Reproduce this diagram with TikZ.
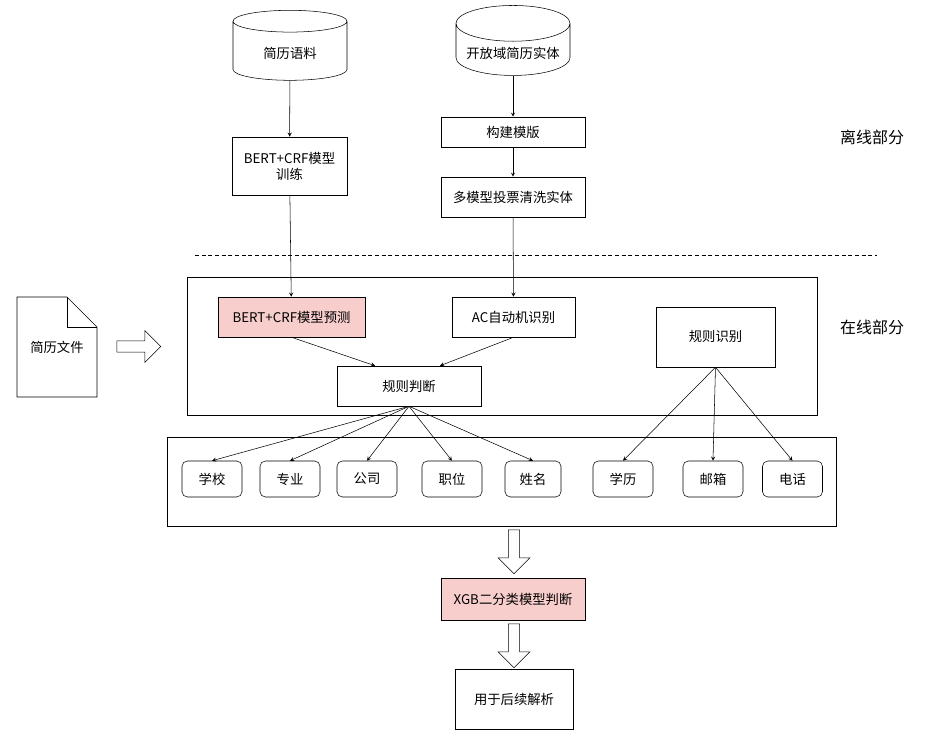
\documentclass[tikz,border=0pt]{standalone}
\usepackage{fontspec}
\setmainfont{Noto Sans CJK SC}
\usetikzlibrary{shapes.geometric,shapes.arrows,calc}
\definecolor{pinkfill}{HTML}{F8CECC}

\begin{document}
\begin{tikzpicture}
    % 样式
    [x=0.75pt,y=-0.75pt,font=\fontsize{10}{12}\selectfont,
    BoxNode/.style={rectangle,draw,fill=white,align=center},
    DbNode/.style={cylinder,shape border rotate=90,draw,aspect=0.35,minimum width=85.5pt,minimum height=52.5pt},
    ItemNode/.style={rectangle,rounded corners=4pt,draw,minimum width=45pt,minimum height=27pt},
    HollowArrow/.style={single arrow,draw,fill=white,single arrow head extend=4pt,minimum height=33pt,minimum width=24pt,inner sep=2pt}]

    \useasboundingbox (0,0) rectangle (943,746);

    % 数据库
    \node[DbNode] (corpus) at (290,53) {简历语料};
    \node[DbNode] (entity) at (513,53) {开放域简历实体};

    % 离线部分
    \node[BoxNode,minimum width=86pt,minimum height=43.5pt] (train) at (289.5,166) {BERT+CRF模型\\训练};
    \node[BoxNode,minimum width=108pt,minimum height=22.5pt] (tmpl) at (513,132) {构建模版};
    \node[BoxNode,minimum width=108pt,minimum height=30pt] (vote) at (513,197) {多模型投票清洗实体};
    \draw[densely dashed] (195,255) -- (877,255);
    \node (offline) at (872,137) {\fontsize{12}{14}\selectfont 离线部分};
    \node (online) at (872,327) {\fontsize{12}{14}\selectfont 在线部分};

    % 在线部分
    \node[BoxNode,minimum width=472.5pt,minimum height=103.5pt] (onbox) at (502,346) {};
    \node[BoxNode,fill=pinkfill,minimum width=110pt,minimum height=30pt] (pred) at (291.5,317) {BERT+CRF模型预测};
    \node[BoxNode,minimum width=92pt,minimum height=30pt] (ac) at (513.5,317) {AC自动机识别};
    \node[BoxNode,minimum width=89pt,minimum height=45pt] (rule) at (715.5,337) {规则识别};
    \node[BoxNode,minimum width=108pt,minimum height=30pt] (judge) at (409,386) {规则判断};

    \draw[-stealth] (corpus) -- (train);
    \draw[-stealth] (train) -- (pred);
    \draw[-stealth] (entity) -- (tmpl);
    \draw[-stealth] (tmpl) -- (vote);
    \draw[-stealth] (vote) -- (ac);
    \draw[-stealth] (pred.south) -- ($(judge.north)+(-34,0)$);
    \draw[-stealth] (ac.south) -- ($(judge.north)+(31,0)$);

    % 简历文件
    \draw (17,297) -- (67,297) -- (97,327) -- (97,397) -- (17,397) -- cycle;
    \draw (67,297) -- (67,327) -- (97,327);
    \node (doc) at (57,347) {简历文件};
    \node[HollowArrow] (docarrow) at (136,346.5) {};

    % 实体框
    \node[BoxNode,minimum width=501.75pt,minimum height=66.75pt] (itembox) at (501.5,481.5) {};
    \node[ItemNode] (school) at (212,479) {学校};
    \node[ItemNode] (major) at (290,479) {专业};
    \node[ItemNode] (company) at (367,479) {公司};
    \node[ItemNode] (position) at (452,479) {职位};
    \node[ItemNode,minimum width=42pt] (name) at (533,479) {姓名};
    \node[ItemNode] (degree) at (623,479) {学历};
    \node[ItemNode] (email) at (713,479) {邮箱};
    \node[ItemNode] (phone) at (792.5,479) {电话};
    \foreach \x in {school,major,company,position,name}
        \draw[-stealth] (judge.south) -- (\x.north);
    \foreach \x in {degree,email,phone}
        \draw[-stealth] (rule.south) -- (\x.north);

    % 输出
    \node[BoxNode,fill=pinkfill,minimum width=108pt,minimum height=31.5pt] (xgb) at (513,599) {XGB二分类模型判断};
    \node[BoxNode,minimum width=88.5pt,minimum height=45pt] (parse) at (514,699) {用于后续解析};
    \node[HollowArrow,shape border rotate=270] (arrow1) at (514,549) {};
    \node[HollowArrow,shape border rotate=270] (arrow2) at (514,643) {};
\end{tikzpicture}
\end{document}
